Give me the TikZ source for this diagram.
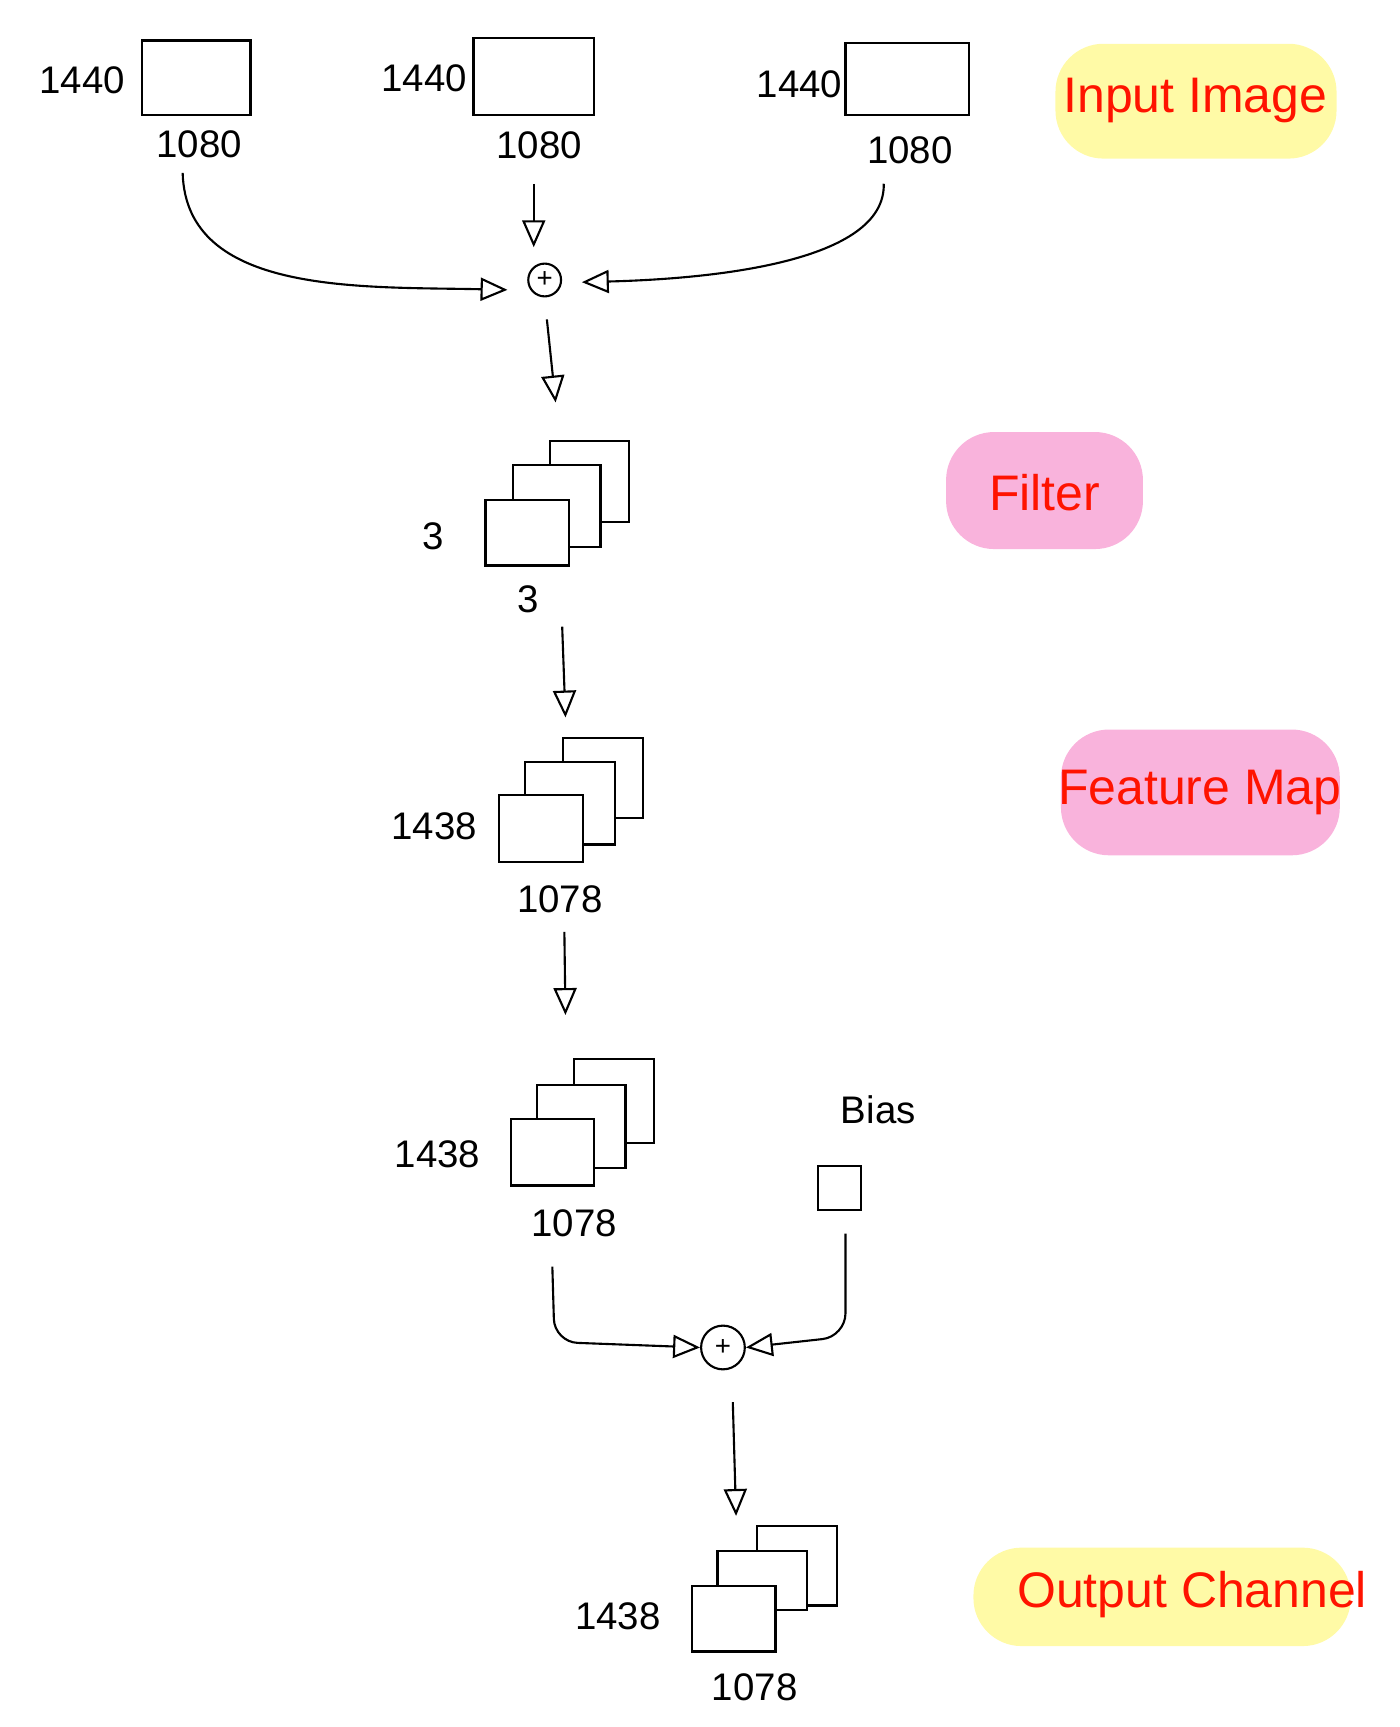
\documentclass[tikz,border=0pt]{standalone}
\usepackage{fontspec}
\setmainfont{Liberation Sans}
\usetikzlibrary{arrows.meta}
\begin{document}
\begin{tikzpicture}[x=0.02cm,y=-0.02cm,
  box/.style={draw,line width=1.2pt,fill=white},
  lab/.style={font=\fontsize{20}{22}\selectfont},
  tag/.style={font=\fontsize{26}{28}\selectfont,text=red!85!orange},
  arr/.style={line width=1.1pt,-{Triangle[open,length=14pt,width=12pt]}},
  plus/.style={draw,circle,line width=1.1pt,inner sep=0pt,font=\Large}]
\useasboundingbox (0,0) rectangle (1280,1579);
% highlights
\fill[yellow!35,rounded corners=25pt] (965,40) rectangle (1222,145);
\fill[magenta!30,rounded corners=25pt] (865,395) rectangle (1045,502);
\fill[magenta!30,rounded corners=25pt] (970,667) rectangle (1225,782);
\fill[yellow!35,rounded corners=25pt] (890,1415) rectangle (1235,1505);
\node[tag] (t1) at (1093,92) {Input Image};
\node[tag] (t2) at (955,450) {Filter};
\node[tag] (t3) at (1097,725) {Feature Map};
\node[tag] (t4) at (1090,1458) {Output Channel};
% inputs
\draw[box] (130,37) rectangle (229,105); \coordinate (a1) at (167,158);
\draw[box] (433,35) rectangle (543,105); \coordinate (a2) at (488,168);
\draw[box] (773,39) rectangle (886,105); \coordinate (a3) at (808,168);
\node[lab] (l1) at (75,73) {1440}; \node[lab] (b1) at (182,132) {1080};
\node[lab] (l2) at (388,72) {1440}; \node[lab] (b2) at (493,133) {1080};
\node[lab] (l3) at (731,77) {1440}; \node[lab] (b3) at (832,137) {1080};
\node[plus,minimum size=0.6cm] (p1) at (498,256) {+};
\draw[arr] (a1) .. controls (170,270) and (330,262) .. (464,265);
\draw[arr] (a2) -- (488,226);
\draw[arr] (a3) .. controls (810,240) and (650,255) .. (532,258);
\coordinate (c1) at (500,292);
\draw[arr] (c1) -- (508,368);
% filter
\draw[box] (503,403) rectangle (575,477);
\draw[box] (469,425) rectangle (549,500);
\draw[box] (444,457) rectangle (520,517);
\node[lab] (f1) at (396,490) {3}; \node[lab] (f2) at (483,548) {3};
\coordinate (c2) at (514,573);
\draw[arr] (c2) -- (517,656);
% feature map
\draw[box] (515,675) rectangle (588,748);
\draw[box] (480,697) rectangle (562,772);
\draw[box] (456,727) rectangle (533,788);
\node[lab] (m1) at (397,755) {1438}; \node[lab] (m2) at (512,822) {1078};
\coordinate (c3) at (516,852);
\draw[arr] (c3) -- (517,928);
% second
\draw[box] (525,968) rectangle (598,1045);
\draw[box] (491,992) rectangle (572,1068);
\draw[box] (467,1023) rectangle (543,1084);
\node[lab] (n1) at (400,1055) {1438}; \node[lab] (n2) at (525,1118) {1078};
\draw[box] (748,1066) rectangle (787,1106);
\node[lab] (bias) at (803,1015) {Bias};
\node[plus,minimum size=0.8cm] (p2) at (661,1232) {+};
\coordinate (c4) at (505,1158); \coordinate (c5) at (773,1128);
\draw[arr,rounded corners=12pt] (c4) -- (507,1227) -- (p2.west);
\draw[arr,rounded corners=12pt] (c5) -- (773,1222) -- (p2.east);
\coordinate (c6) at (670,1282);
\draw[arr] (c6) -- (673,1386);
% output
\draw[box] (692,1395) rectangle (765,1468);
\draw[box] (656,1418) rectangle (738,1472);
\draw[box] (633,1450) rectangle (709,1510);
\node[lab] (o1) at (565,1478) {1438}; \node[lab] (o2) at (690,1543) {1078};
\end{tikzpicture}
\end{document}
